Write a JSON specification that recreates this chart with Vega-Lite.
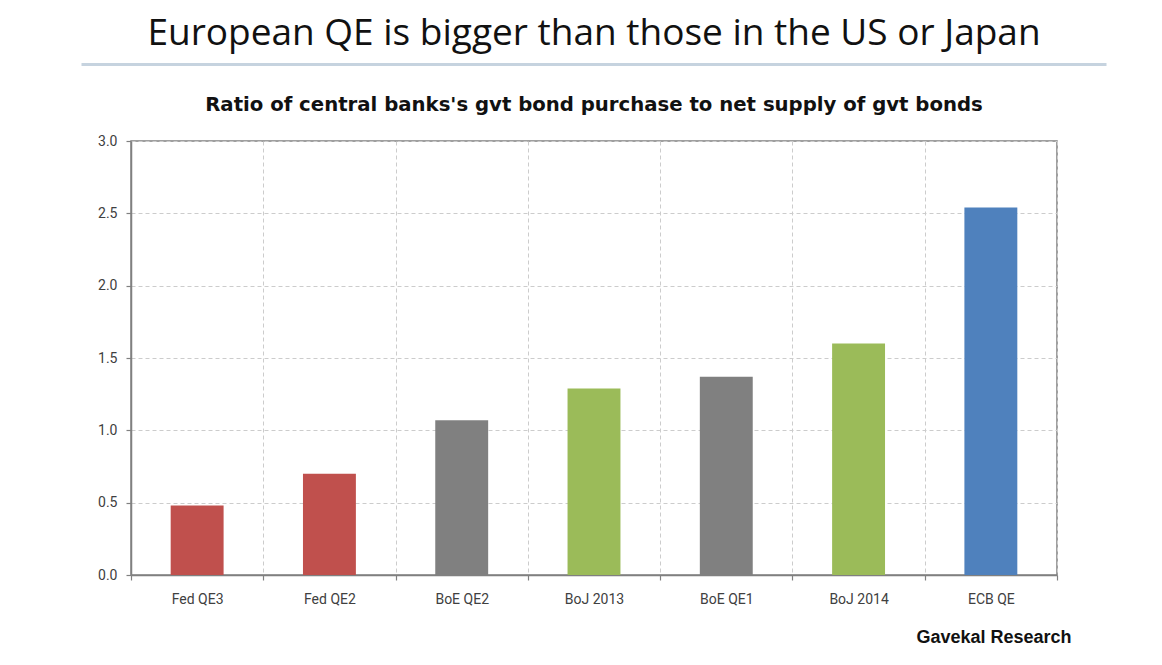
{
  "$schema": "https://vega.github.io/schema/vega-lite/v6.json",
  "background": "white",
  "padding": {"left": 80, "top": 14, "right": 0, "bottom": 0},
  "spacing": 25,
  "config": {
    "view": {"stroke": "#808080", "strokeWidth": 1.5},
    "axis": {"labelFont": "Roboto", "labelFontSize": 14, "labelColor": "#404040", "domainColor": "#808080", "domainWidth": 1.5, "tickColor": "#808080", "tickWidth": 1.2, "tickSize": 5, "gridColor": "#cccccc", "gridDash": [4, 3], "gridWidth": 1}
  },
  "vconcat": [
    {
      "width": 926,
      "height": 1,
      "view": {"stroke": null},
      "title": {"text": "European QE is bigger than those in the US or Japan", "font": "Open Sans", "fontSize": 37, "fontWeight": "normal", "color": "#111111", "anchor": "middle", "offset": 5},
      "data": {"values": [{"t": 0, "s": ""}]},
      "mark": {"type": "text"},
      "encoding": {
        "x": {"field": "t", "type": "quantitative", "scale": {"domain": [0, 1], "range": [-50, 975]},
          "axis": {"title": null, "labels": false, "ticks": false, "grid": false, "domainColor": "#C6D3DF", "domainWidth": 3}},
        "text": {"field": "s"}
      }
    },
    {
      "width": 926,
      "height": 434,
      "title": {"text": "Ratio of central banks's gvt bond purchase to net supply of gvt bonds", "font": "DejaVu Sans", "fontSize": 19.7, "fontWeight": "bold", "color": "#111111", "anchor": "middle", "offset": 19},
      "data": {"values": [
        {"program": "Fed QE3", "bank": "Fed", "ratio": 0.48},
        {"program": "Fed QE2", "bank": "Fed", "ratio": 0.70},
        {"program": "BoE QE2", "bank": "BoE", "ratio": 1.07},
        {"program": "BoJ 2013", "bank": "BoJ", "ratio": 1.29},
        {"program": "BoE QE1", "bank": "BoE", "ratio": 1.37},
        {"program": "BoJ 2014", "bank": "BoJ", "ratio": 1.60},
        {"program": "ECB QE", "bank": "ECB", "ratio": 2.54}
      ]},
      "mark": {"type": "bar", "width": {"band": 0.4}},
      "encoding": {
        "x": {"field": "program", "type": "nominal", "sort": null,
          "scale": {"paddingInner": 0, "paddingOuter": 0},
          "axis": {"title": "Gavekal Research", "titleFont": "Liberation Sans", "titleFontSize": 18, "titleFontWeight": "bold", "titleColor": "#111111", "titleAlign": "right", "titleBaseline": "middle", "titleX": 940, "titleY": 62, "labelAngle": 0, "labelPadding": 12, "tickBand": "extent", "grid": true}},
        "y": {"field": "ratio", "type": "quantitative",
          "scale": {"domain": [0, 3]},
          "axis": {"title": null, "values": [0, 0.5, 1, 1.5, 2, 2.5, 3], "format": ".1f", "labelPadding": 9, "minExtent": 50, "maxExtent": 50, "grid": true}},
        "color": {"field": "bank", "type": "nominal",
          "scale": {"domain": ["Fed", "BoE", "BoJ", "ECB"], "range": ["#C0504D", "#808080", "#9BBB59", "#4F81BD"]},
          "legend": null}
      }
    }
  ]
}
